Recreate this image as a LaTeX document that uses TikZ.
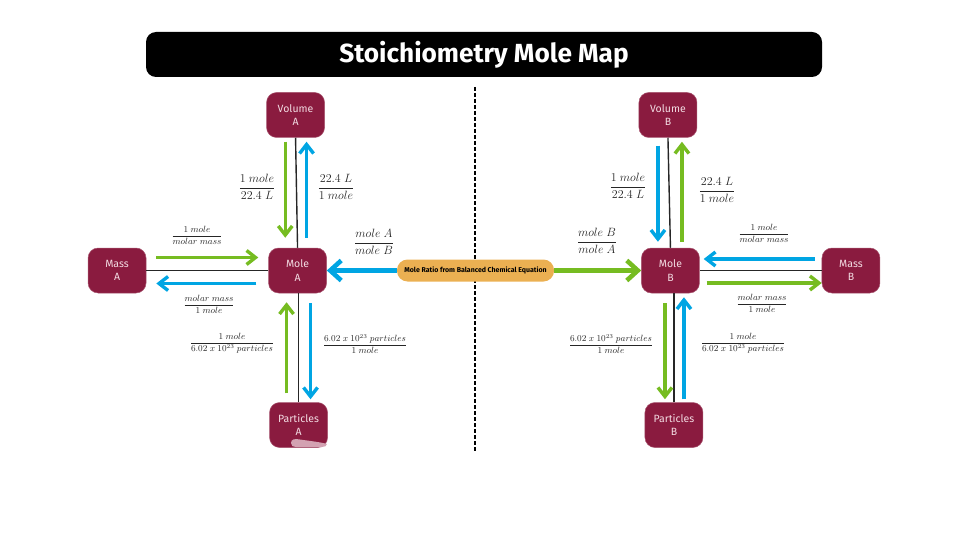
\documentclass[tikz,border=0pt]{standalone}
\usepackage{amsmath}
\usepackage[no-math]{fontspec}
\setmainfont{Fira Sans}
\usepackage{tikz}
\usetikzlibrary{positioning,arrows.meta}

\definecolor{boxred}{HTML}{8A1B3F}
\definecolor{boxtext}{HTML}{F3DCE3}
\definecolor{mapgreen}{HTML}{76BC21}
\definecolor{mapblue}{HTML}{00A5E3}
\definecolor{pillorange}{HTML}{EBB052}
\definecolor{ratiogray}{HTML}{262626}

\tikzset{
    qty/.style={draw=boxred!75!white, line width=0.5pt, fill=boxred, rounded corners=10pt, minimum width=58pt, minimum height=45pt, inner sep=0pt, align=center, text=boxtext, font=\fontsize{10.5}{13.5}\selectfont},
    pill/.style={fill=pillorange, rounded corners=10.5pt, minimum width=157pt, minimum height=22pt, inner sep=0pt, text=black, font=\fontsize{7}{8}\selectfont\bfseries},
    titlebar/.style={fill=black, rounded corners=10pt, minimum width=676pt, minimum height=45pt, inner sep=0pt, text=white, font=\fontsize{26.2}{30}\selectfont\bfseries},
    link/.style={draw=black!85, line width=1.4pt},
    gogreen/.style={draw=mapgreen, line width=3.4pt, -{Straight Barb[length=9pt,width=14pt]}},
    goblue/.style={draw=mapblue, line width=3.4pt, -{Straight Barb[length=9pt,width=14pt]}},
    biggreen/.style={draw=mapgreen, line width=4.6pt, -{Straight Barb[length=11pt,width=20pt]}},
    bigblue/.style={draw=mapblue, line width=4.6pt, -{Straight Barb[length=11pt,width=20pt]}},
    ratio/.style={text=ratiogray, inner sep=0pt, font=\fontsize{12}{14}\selectfont},
    smallratio/.style={text=ratiogray, inner sep=0pt, font=\fontsize{9}{11}\selectfont}
}

\begin{document}
\begin{tikzpicture}[x=1pt, y=-1pt]

            \useasboundingbox (0,0) rectangle (960,540);

            % Nodes

            \node[titlebar] (title) at (484,54.5) {Stoichiometry Mole Map};
            \coordinate (dashtop) at (475,87);
            \coordinate (dashbot) at (475,452);
            \draw[black, line width=1.4pt, dash pattern=on 4pt off 2pt] (dashtop) -- (dashbot);

            \node[pill] (pill) at (475.5,270.5) {Mole Ratio from Balanced Chemical Equation};

            \node[qty, left=70pt of pill] (mola) {Mole\\A};
            \node[qty, above=110pt of mola, xshift=-2pt] (vola) {Volume\\A};
            \node[qty, left=122pt of mola] (massa) {Mass\\A};
            \node[qty, below=109pt of mola, xshift=1pt] (para) {Particles\\A};

            \node[qty, right=87pt of pill] (molb) {Mole\\B};
            \node[qty, above=110pt of molb, xshift=-2.5pt] (volb) {Volume\\B};
            \node[qty, right=122pt of molb] (massb) {Mass\\B};
            \node[qty, below=109pt of molb, xshift=3.5pt] (parb) {Particles\\B};

            % smudge on the box
            \fill[boxtext!70!boxred] (291,443) .. controls (291,439) and (295,438.5) .. (300,439.5) .. controls (310,441) and (320,442) .. (327,444) .. controls (326.5,446) and (325,447) .. (322,447) -- (296,447) .. controls (293,447) and (291,446) .. (291,443) -- cycle;

            % Labels

            \node[ratio] (la1) at (257,187) {$\dfrac{1\ mole}{22.4\ L}$};
            \node[ratio] (la2) at (336,187) {$\dfrac{22.4\ L}{1\ mole}$};
            \node[ratio] (la3) at (374,242) {$\dfrac{mole\ A}{mole\ B}$};
            \node[smallratio] (la4) at (197,235) {$\dfrac{1\ mole}{molar\ mass}$};
            \node[smallratio] (la5) at (209,304) {$\dfrac{molar\ mass}{1\ mole}$};
            \node[smallratio] (la6) at (232,343) {$\dfrac{1\ mole}{6.02\ x\ 10^{23}\ particles}$};
            \node[smallratio] (la7) at (365,344) {$\dfrac{6.02\ x\ 10^{23}\ particles}{1\ mole}$};

            \node[ratio] (lb1) at (628,186) {$\dfrac{1\ mole}{22.4\ L}$};
            \node[ratio] (lb2) at (717,190) {$\dfrac{22.4\ L}{1\ mole}$};
            \node[ratio] (lb3) at (597,241) {$\dfrac{mole\ B}{mole\ A}$};
            \node[smallratio] (lb4) at (764,233) {$\dfrac{1\ mole}{molar\ mass}$};
            \node[smallratio] (lb5) at (762,303) {$\dfrac{molar\ mass}{1\ mole}$};
            \node[smallratio] (lb6) at (611,344) {$\dfrac{6.02\ x\ 10^{23}\ particles}{1\ mole}$};
            \node[smallratio] (lb7) at (743,343) {$\dfrac{1\ mole}{6.02\ x\ 10^{23}\ particles}$};

            % Edges

            \draw[link] (vola.south) -- (mola.north);
            \draw[link] (massa.east) -- (mola.west);
            \draw[link] (para.north) -- (para.north |- mola.south);
            \draw[link] (volb.south) -- (molb.north);
            \draw[link] (massb.west) -- (molb.east);
            \draw[link] (parb.north) -- (parb.north |- molb.south);

            \draw[gogreen] ([xshift=-10.3pt,yshift=-4pt]vola.south) -- ([xshift=-12.3pt,yshift=10pt]mola.north);
            \draw[goblue] ([xshift=9pt,yshift=10pt]mola.north) -- ([xshift=11pt,yshift=-4pt]vola.south);
            \draw[gogreen] ([xshift=10pt,yshift=13pt]massa.east) -- ([xshift=-10pt,yshift=13pt]mola.west);
            \draw[goblue] ([xshift=-12pt,yshift=-13pt]mola.west) -- ([xshift=10pt,yshift=-13pt]massa.east);
            \draw[gogreen] ([xshift=-12pt,yshift=9pt]para.north) -- ([xshift=-11pt,yshift=-9pt]mola.south);
            \draw[goblue] ([xshift=13pt,yshift=-10pt]mola.south) -- ([xshift=12pt,yshift=3pt]para.north);
            \draw[bigblue] (pill.west) -- (mola.east);

            \draw[goblue] ([xshift=-10pt,yshift=-8pt]volb.south) -- ([xshift=-12.5pt,yshift=6pt]molb.north);
            \draw[gogreen] ([xshift=11.5pt,yshift=6pt]molb.north) -- ([xshift=14pt,yshift=-4pt]volb.south);
            \draw[goblue] ([xshift=-7pt,yshift=11.5pt]massb.west) -- ([xshift=4pt,yshift=11.5pt]molb.east);
            \draw[gogreen] ([xshift=7pt,yshift=-12.5pt]molb.east) -- ([yshift=-12.5pt]massb.west);
            \draw[gogreen] ([xshift=-5.5pt,yshift=-10pt]molb.south) -- ([xshift=-9pt,yshift=3pt]parb.north);
            \draw[goblue] ([xshift=10pt,yshift=3pt]parb.north) -- ([xshift=13.5pt,yshift=-4pt]molb.south);
            \draw[biggreen] (pill.east) -- (molb.west);

\end{tikzpicture}
\end{document}
